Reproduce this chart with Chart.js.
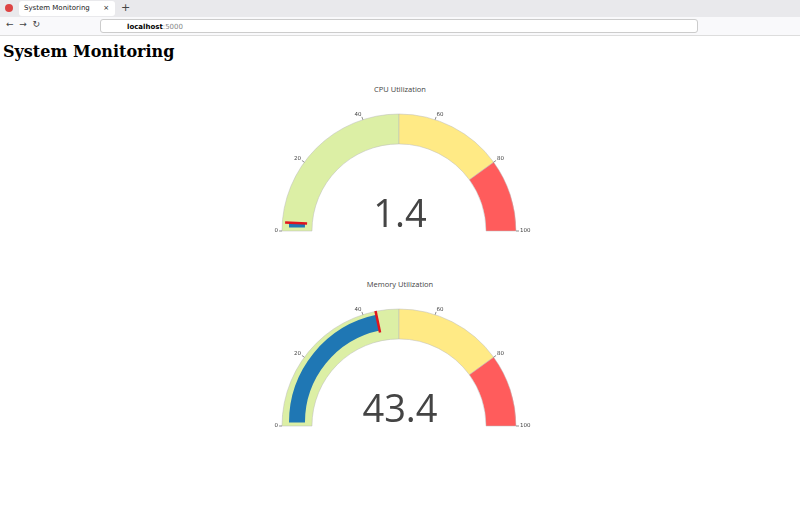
<!DOCTYPE html>
<html>
<head>
<meta charset="utf-8">
<script src="https://cdn.jsdelivr.net/npm/chart.js@4"></script>
<style>
  body { margin: 0; width: 800px; height: 506px; overflow: hidden; background: #fff; font-family: "DejaVu Sans", sans-serif; position: relative; }
  #tabs { position: absolute; left: 0; top: 0; width: 800px; height: 17px; background: #e9e9ec; }
  #tab { position: absolute; left: 19px; top: 1px; width: 96px; height: 15px; background: #fff; border-radius: 3px; font-size: 7px; line-height: 15px; padding-left: 5px; box-sizing: border-box; color: #222; }
  #nav { position: absolute; left: 0; top: 17px; width: 800px; height: 18px; background: #f9f9fb; border-bottom: 1px solid #ddd; }
  #url { position: absolute; left: 100px; top: 2px; width: 598px; height: 14px; background: #fff; border: 1px solid #ccc; border-radius: 3px; font-size: 7px; line-height: 14px; padding-left: 26px; box-sizing: border-box; }
  h1 { position: absolute; left: 3px; top: 42px; margin: 0; font-family: "DejaVu Serif", serif; font-size: 16px; font-weight: bold; }
  .ttl { position: absolute; width: 800px; text-align: center; font-size: 7.5px; color: #444; font-family: "Open Sans", sans-serif; }
  .val { position: absolute; width: 800px; text-align: center; font-size: 38px; color: #444; font-family: "Open Sans", sans-serif; }
  canvas { position: absolute; }
</style>
</head>
<body>
<div id="tabs"><div style="position:absolute;left:5px;top:4px;width:8px;height:8px;border-radius:4px;background:#d44"></div><div id="tab">System Monitoring<span style="position:absolute;right:6px">×</span></div><div style="position:absolute;left:121px;top:1px;font-size:11px;color:#444">+</div></div>
<div id="nav"><span style="position:absolute;left:6px;top:2px;font-size:9px;color:#444">←&nbsp;&nbsp;→&nbsp;&nbsp;↻</span><div id="url"><b>localhost</b><span style="color:#888">:5000</span></div></div>
<h1>System Monitoring</h1>

<div class="ttl" style="top:84px">CPU Utilization</div>
<canvas id="cpu_steps" width="300" height="150" style="left:249px;top:98px;width:300px;height:150px"></canvas>
<canvas id="cpu_bar" width="300" height="150" style="left:249px;top:98px;width:300px;height:150px"></canvas>
<div class="val" style="top:186px">1.4</div>

<div class="ttl" style="top:279px">Memory Utilization</div>
<canvas id="mem_steps" width="300" height="150" style="left:249px;top:293px;width:300px;height:150px"></canvas>
<canvas id="mem_bar" width="300" height="150" style="left:249px;top:293px;width:300px;height:150px"></canvas>
<div class="val" style="top:381px">43.4</div>

<script>
const gaugeMax = 100;
const tickValues = [0, 20, 40, 60, 80, 100];
const stepBounds = [50, 80, 100];
const stepColors = ["#dcefa5", "#ffea85", "#ff5c5c"];
const cpuValue = 1.4;
const memValue = 43.4;

const pad = { left: 33, right: 33, top: 16, bottom: 17 };

// step widths from bounds
const stepData = stepBounds.map((b, i) => b - (i ? stepBounds[i - 1] : 0));

const tickPlugin = {
    id: "gaugeTicks",
    afterDraw(chart) {
        const arc = chart.getDatasetMeta(0).data[0];
        const ctx = chart.ctx;
        const cx = arc.x, cy = arc.y, r = arc.outerRadius;
        ctx.save();
        ctx.strokeStyle = "#444";
        ctx.lineWidth = 0.6;
        ctx.fillStyle = "#444";
        ctx.font = "5.5px 'DejaVu Sans'";
        tickValues.forEach(v => {
            const a = Math.PI + Math.PI * v / gaugeMax;
            const c = Math.cos(a), s = Math.sin(a);
            ctx.beginPath();
            ctx.moveTo(cx + c * r, cy + s * r);
            ctx.lineTo(cx + c * (r + 3), cy + s * (r + 3));
            ctx.stroke();
            ctx.textAlign = c < -0.3 ? "right" : c > 0.3 ? "left" : "center";
            ctx.textBaseline = Math.abs(c) > 0.9 ? "middle" : "bottom";
            ctx.fillText(String(v), cx + c * (r + 4), cy + s * (r + 4) + (Math.abs(c) > 0.9 ? 0 : 1));
        });
        ctx.restore();
    }
};

const thresholdPlugin = {
    id: "threshold",
    afterDatasetsDraw(chart) {
        const arc = chart.getDatasetMeta(0).data[0];
        const ctx = chart.ctx;
        const a = arc.endAngle;
        ctx.save();
        ctx.strokeStyle = "#e0141e";
        ctx.lineWidth = 2.5;
        ctx.beginPath();
        ctx.moveTo(arc.x + Math.cos(a) * 92, arc.y + Math.sin(a) * 92);
        ctx.lineTo(arc.x + Math.cos(a) * 114, arc.y + Math.sin(a) * 114);
        ctx.stroke();
        ctx.restore();
    }
};

function makeGauge(stepsId, barId, value) {
    new Chart(document.getElementById(stepsId).getContext("2d"), {
        type: "doughnut",
        data: { datasets: [{ data: stepData, backgroundColor: stepColors, borderColor: "#bbb", borderWidth: 0.5 }] },
        options: {
            responsive: false, animation: false, rotation: -90, circumference: 180,
            radius: 117, cutout: "74.4%", layout: { padding: pad },
            plugins: { legend: { display: false }, tooltip: { enabled: false } }
        },
        plugins: [tickPlugin]
    });
    new Chart(document.getElementById(barId).getContext("2d"), {
        type: "doughnut",
        data: { datasets: [{ data: [value, gaugeMax - value], backgroundColor: ["#1f77b4", "rgba(0,0,0,0)"], borderWidth: 0 }] },
        options: {
            responsive: false, animation: false, rotation: -90, circumference: 180,
            radius: 110, cutout: "85.5%", layout: { padding: pad },
            plugins: { legend: { display: false }, tooltip: { enabled: false } }
        },
        plugins: [thresholdPlugin]
    });
}

makeGauge("cpu_steps", "cpu_bar", cpuValue);
makeGauge("mem_steps", "mem_bar", memValue);
</script>
</body>
</html>
